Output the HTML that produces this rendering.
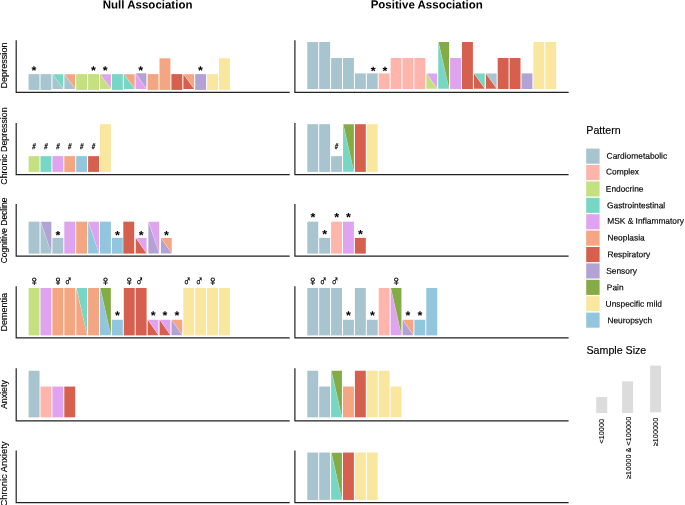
<!DOCTYPE html>
<html lang="en"><head><meta charset="utf-8"><title>Multimorbidity pattern associations</title>
<style>
html,body{margin:0;padding:0;background:#fff;}
body{width:685px;height:505px;overflow:hidden;font-family:"Liberation Sans","DejaVu Sans",sans-serif;}
svg{display:block;}
text{font-family:"Liberation Sans","DejaVu Sans",sans-serif;fill:#111;}
.st{font-size:12.5px;font-weight:bold;text-anchor:middle;fill:#000;}
.ha{font-size:8px;font-weight:bold;font-style:italic;text-anchor:middle;fill:#000;stroke:#000;stroke-width:0.2px;}
.gf{font-size:14px;text-anchor:middle;fill:#000;stroke:#000;stroke-width:0.3px;}
.gm{font-size:14px;text-anchor:middle;fill:#000;stroke:#000;stroke-width:0.3px;}
.rl{font-size:9.1px;text-anchor:middle;fill:#000;stroke:#000;stroke-width:0.15px;}
.ct{font-size:11.5px;font-weight:bold;text-anchor:middle;fill:#000;}
.lt{font-size:10.65px;fill:#000;stroke:#000;stroke-width:0.15px;}
.ll{font-size:8.4px;fill:#000;stroke:#000;stroke-width:0.15px;}
.sl{font-size:7.35px;text-anchor:end;fill:#000;stroke:#000;stroke-width:0.12px;}
</style></head>
<body>
<svg width="685" height="505" viewBox="0 0 685 505">
<rect x="0" y="0" width="685" height="505" fill="#ffffff"/>
<rect x="28.6" y="74.1" width="10.9" height="15.8" fill="#A7C4CF"/>
<text class="st" transform="translate(33.85,74.8) rotate(0.05)">*</text>
<rect x="40.5" y="74.1" width="10.9" height="15.8" fill="#A7C4CF"/>
<polygon points="52.45,74.2 52.45,89 63.25,89" fill="#A7C4CF"/>
<polygon points="52.75,74.2 63.25,74.2 63.25,88.5" fill="#76D7C4"/>
<polygon points="64.35,74.2 64.35,89 75.15,89" fill="#A7C4CF"/>
<polygon points="64.65,74.2 75.15,74.2 75.15,88.5" fill="#F4A582"/>
<rect x="76.2" y="74.1" width="10.9" height="15.8" fill="#C5E17F"/>
<rect x="88.1" y="74.1" width="10.9" height="15.8" fill="#C5E17F"/>
<text class="st" transform="translate(93.35,74.8) rotate(0.05)">*</text>
<polygon points="100.05,74.2 100.05,89 110.85,89" fill="#C5E17F"/>
<polygon points="100.35,74.2 110.85,74.2 110.85,88.5" fill="#E0A3F0"/>
<text class="st" transform="translate(105.25,74.8) rotate(0.05)">*</text>
<rect x="111.9" y="74.1" width="10.9" height="15.8" fill="#76D7C4"/>
<polygon points="123.85,74.2 123.85,89 134.65,89" fill="#76D7C4"/>
<polygon points="124.15,74.2 134.65,74.2 134.65,88.5" fill="#F4A582"/>
<polygon points="135.55,73.3 135.55,89 146.35,89" fill="#E0A3F0"/>
<polygon points="135.85,73.3 146.35,73.3 146.35,88.5" fill="#B3A3D5"/>
<text class="st" transform="translate(140.75,74.8) rotate(0.05)">*</text>
<rect x="147.6" y="74.1" width="10.9" height="15.8" fill="#F4A582"/>
<rect x="159.5" y="58.3" width="10.9" height="31.6" fill="#F4A582"/>
<rect x="171.4" y="74.1" width="10.9" height="15.8" fill="#D6604D"/>
<polygon points="183.35,74.2 183.35,89 194.15,89" fill="#D6604D"/>
<polygon points="183.65,74.2 194.15,74.2 194.15,88.5" fill="#F4A582"/>
<rect x="195.2" y="74.1" width="10.9" height="15.8" fill="#B3A3D5"/>
<text class="st" transform="translate(200.45,74.8) rotate(0.05)">*</text>
<rect x="207.1" y="74.1" width="10.9" height="15.8" fill="#F9E79F"/>
<rect x="219" y="58.3" width="10.9" height="31.6" fill="#F9E79F"/>
<path d="M16.2,40.3 V92.4 H289.7" fill="none" stroke="#222222" stroke-width="1.2" stroke-linecap="butt" stroke-linejoin="miter"/>
<rect x="307.3" y="42" width="10.9" height="47" fill="#A7C4CF"/>
<rect x="319.2" y="42" width="10.9" height="47" fill="#A7C4CF"/>
<rect x="331.1" y="58" width="10.9" height="31" fill="#A7C4CF"/>
<rect x="343" y="58" width="10.9" height="31" fill="#A7C4CF"/>
<rect x="354.9" y="73.4" width="10.9" height="15.6" fill="#A7C4CF"/>
<rect x="366.8" y="73.4" width="10.9" height="15.6" fill="#A7C4CF"/>
<text class="st" transform="translate(373.15,75.2) rotate(0.05)">*</text>
<rect x="378.7" y="73.4" width="10.9" height="15.6" fill="#FFB5AC"/>
<text class="st" transform="translate(385.05,75.2) rotate(0.05)">*</text>
<rect x="390.6" y="58" width="10.9" height="31" fill="#FFB5AC"/>
<rect x="402.5" y="58" width="10.9" height="31" fill="#FFB5AC"/>
<rect x="414.4" y="58" width="10.9" height="31" fill="#FFB5AC"/>
<polygon points="426.35,73.5 426.35,88.8 437.15,88.8" fill="#C5E17F"/>
<polygon points="426.65,73.5 437.15,73.5 437.15,88.3" fill="#E0A3F0"/>
<polygon points="438.25,42.1 438.25,88.8 449.05,88.8" fill="#76D7C4"/>
<polygon points="438.55,42.1 449.05,42.1 449.05,88.3" fill="#85AB47"/>
<rect x="450.1" y="58" width="10.9" height="31" fill="#E0A3F0"/>
<rect x="462" y="42" width="10.9" height="47" fill="#D6604D"/>
<polygon points="473.95,73.5 473.95,88.8 484.75,88.8" fill="#D6604D"/>
<polygon points="474.25,73.5 484.75,73.5 484.75,88.3" fill="#76D7C4"/>
<polygon points="485.85,73.5 485.85,88.8 496.65,88.8" fill="#D6604D"/>
<polygon points="486.15,73.5 496.65,73.5 496.65,88.3" fill="#A7C4CF"/>
<rect x="497.7" y="58" width="10.9" height="31" fill="#D6604D"/>
<rect x="509.6" y="58" width="10.9" height="31" fill="#D6604D"/>
<rect x="521.5" y="73.4" width="10.9" height="15.6" fill="#B3A3D5"/>
<rect x="533.4" y="42" width="10.9" height="47" fill="#F9E79F"/>
<rect x="545.3" y="42" width="10.9" height="47" fill="#F9E79F"/>
<path d="M294.9,40.3 V92.4 H568.6" fill="none" stroke="#222222" stroke-width="1.2" stroke-linecap="butt" stroke-linejoin="miter"/>
<rect x="28.6" y="156.15" width="10.9" height="15.75" fill="#C5E17F"/>
<text class="ha" transform="translate(33.75,149.25) rotate(0.05) skewX(-6) scale(0.74,1.1)">#</text>
<rect x="40.5" y="156.15" width="10.9" height="15.75" fill="#76D7C4"/>
<text class="ha" transform="translate(45.65,149.25) rotate(0.05) skewX(-6) scale(0.74,1.1)">#</text>
<rect x="52.4" y="156.15" width="10.9" height="15.75" fill="#E0A3F0"/>
<text class="ha" transform="translate(57.55,149.25) rotate(0.05) skewX(-6) scale(0.74,1.1)">#</text>
<rect x="64.3" y="156.15" width="10.9" height="15.75" fill="#F4A582"/>
<text class="ha" transform="translate(69.45,149.25) rotate(0.05) skewX(-6) scale(0.74,1.1)">#</text>
<rect x="76.2" y="156.15" width="10.9" height="15.75" fill="#92C5DE"/>
<text class="ha" transform="translate(81.35,149.25) rotate(0.05) skewX(-6) scale(0.74,1.1)">#</text>
<rect x="88.1" y="156.15" width="10.9" height="15.75" fill="#D6604D"/>
<text class="ha" transform="translate(93.25,149.25) rotate(0.05) skewX(-6) scale(0.74,1.1)">#</text>
<rect x="100" y="124.2" width="10.9" height="47.7" fill="#F9E79F"/>
<path d="M16.2,122.9 V174.6 H289.7" fill="none" stroke="#222222" stroke-width="1.2" stroke-linecap="butt" stroke-linejoin="miter"/>
<rect x="307.3" y="124.2" width="10.9" height="47.7" fill="#A7C4CF"/>
<rect x="319.2" y="124.2" width="10.9" height="47.7" fill="#A7C4CF"/>
<rect x="331.1" y="156.15" width="10.9" height="15.75" fill="#A7C4CF"/>
<text class="ha" transform="translate(336.25,149.25) rotate(0.05) skewX(-6) scale(0.74,1.1)">#</text>
<polygon points="343.05,124.3 343.05,171.7 353.85,171.7" fill="#76D7C4"/>
<polygon points="343.35,124.3 353.85,124.3 353.85,171.2" fill="#85AB47"/>
<rect x="354.9" y="124.2" width="10.9" height="47.7" fill="#D6604D"/>
<rect x="366.8" y="124.2" width="10.9" height="47.7" fill="#F9E79F"/>
<path d="M294.9,122.9 V174.6 H568.6" fill="none" stroke="#222222" stroke-width="1.2" stroke-linecap="butt" stroke-linejoin="miter"/>
<rect x="28.6" y="221.65" width="10.9" height="32" fill="#A7C4CF"/>
<polygon points="40.55,221.75 40.55,253.45 51.35,253.45" fill="#A7C4CF"/>
<polygon points="40.85,221.75 51.35,221.75 51.35,252.95" fill="#B3A3D5"/>
<rect x="52.4" y="237.85" width="10.9" height="15.8" fill="#A7C4CF"/>
<text class="st" transform="translate(57.95,239.4) rotate(0.05)">*</text>
<rect x="64.3" y="221.65" width="10.9" height="32" fill="#E0A3F0"/>
<rect x="76.2" y="221.65" width="10.9" height="32" fill="#F4A582"/>
<polygon points="88.15,221.75 88.15,253.45 98.95,253.45" fill="#92C5DE"/>
<polygon points="88.45,221.75 98.95,221.75 98.95,252.95" fill="#E0A3F0"/>
<rect x="100" y="221.65" width="10.9" height="32" fill="#92C5DE"/>
<rect x="111.9" y="237.85" width="10.9" height="15.8" fill="#92C5DE"/>
<text class="st" transform="translate(117.45,239.4) rotate(0.05)">*</text>
<rect x="123.3" y="221.65" width="10.9" height="32" fill="#D6604D"/>
<polygon points="135.75,237.95 135.75,253.45 146.55,253.45" fill="#D6604D"/>
<polygon points="136.05,237.95 146.55,237.95 146.55,252.95" fill="#E0A3F0"/>
<text class="st" transform="translate(141.25,239.4) rotate(0.05)">*</text>
<polygon points="148.35,221.75 148.35,253.45 159.15,253.45" fill="#B3A3D5"/>
<polygon points="148.65,221.75 159.15,221.75 159.15,252.95" fill="#E0A3F0"/>
<polygon points="160.95,237.95 160.95,253.45 171.75,253.45" fill="#B3A3D5"/>
<polygon points="161.25,237.95 171.75,237.95 171.75,252.95" fill="#F4A582"/>
<text class="st" transform="translate(166.45,239.4) rotate(0.05)">*</text>
<path d="M16.2,204 V256.1 H289.7" fill="none" stroke="#222222" stroke-width="1.2" stroke-linecap="butt" stroke-linejoin="miter"/>
<rect x="307.3" y="221.65" width="10.9" height="32" fill="#A7C4CF"/>
<text class="st" transform="translate(312.85,221.6) rotate(0.05)">*</text>
<rect x="319.2" y="237.85" width="10.9" height="15.8" fill="#A7C4CF"/>
<text class="st" transform="translate(324.75,238.6) rotate(0.05)">*</text>
<rect x="331.1" y="221.65" width="10.9" height="32" fill="#FFB5AC"/>
<text class="st" transform="translate(336.65,221.6) rotate(0.05)">*</text>
<rect x="343" y="221.65" width="10.9" height="32" fill="#E0A3F0"/>
<text class="st" transform="translate(348.55,221.6) rotate(0.05)">*</text>
<rect x="354.9" y="237.85" width="10.9" height="15.8" fill="#D6604D"/>
<text class="st" transform="translate(360.45,238.6) rotate(0.05)">*</text>
<path d="M294.9,204 V256.1 H568.6" fill="none" stroke="#222222" stroke-width="1.2" stroke-linecap="butt" stroke-linejoin="miter"/>
<rect x="28.6" y="288" width="10.9" height="47.4" fill="#C5E17F"/>
<text class="gf" transform="translate(34.15,285.4) rotate(0.05)">♀</text>
<rect x="40.5" y="288" width="10.9" height="47.4" fill="#E0A3F0"/>
<rect x="52.4" y="288" width="10.9" height="47.4" fill="#F4A582"/>
<text class="gf" transform="translate(57.95,285.4) rotate(0.05)">♀</text>
<rect x="64.3" y="288" width="10.9" height="47.4" fill="#F4A582"/>
<text class="gm" transform="translate(68.25,286) rotate(0.05) scale(0.8,1.06)">♂</text>
<polygon points="76.25,288.1 76.25,335.2 87.05,335.2" fill="#F4A582"/>
<polygon points="76.55,288.1 87.05,288.1 87.05,334.7" fill="#76D7C4"/>
<rect x="88.1" y="288" width="10.9" height="47.4" fill="#F4A582"/>
<polygon points="100.05,288.1 100.05,335.2 110.85,335.2" fill="#92C5DE"/>
<polygon points="100.35,288.1 110.85,288.1 110.85,334.7" fill="#85AB47"/>
<text class="gf" transform="translate(105.55,285.4) rotate(0.05)">♀</text>
<rect x="111.9" y="319.75" width="10.9" height="15.65" fill="#92C5DE"/>
<text class="st" transform="translate(117.45,319.8) rotate(0.05)">*</text>
<rect x="123.8" y="288" width="10.9" height="47.4" fill="#D6604D"/>
<text class="gf" transform="translate(129.35,285.4) rotate(0.05)">♀</text>
<rect x="135.7" y="288" width="10.9" height="47.4" fill="#D6604D"/>
<text class="gm" transform="translate(139.65,286) rotate(0.05) scale(0.8,1.06)">♂</text>
<polygon points="147.65,319.85 147.65,335.2 158.45,335.2" fill="#D6604D"/>
<polygon points="147.95,319.85 158.45,319.85 158.45,334.7" fill="#E0A3F0"/>
<text class="st" transform="translate(153.15,319.8) rotate(0.05)">*</text>
<polygon points="159.55,319.85 159.55,335.2 170.35,335.2" fill="#D6604D"/>
<polygon points="159.85,319.85 170.35,319.85 170.35,334.7" fill="#E0A3F0"/>
<text class="st" transform="translate(165.05,319.8) rotate(0.05)">*</text>
<polygon points="171.45,319.85 171.45,335.2 182.25,335.2" fill="#B3A3D5"/>
<polygon points="171.75,319.85 182.25,319.85 182.25,334.7" fill="#F4A582"/>
<text class="st" transform="translate(176.95,319.8) rotate(0.05)">*</text>
<rect x="183.3" y="288" width="10.9" height="47.4" fill="#F9E79F"/>
<text class="gm" transform="translate(187.25,286) rotate(0.05) scale(0.8,1.06)">♂</text>
<rect x="195.2" y="288" width="10.9" height="47.4" fill="#F9E79F"/>
<text class="gm" transform="translate(199.15,286) rotate(0.05) scale(0.8,1.06)">♂</text>
<rect x="207.1" y="288" width="10.9" height="47.4" fill="#F9E79F"/>
<text class="gf" transform="translate(212.65,285.4) rotate(0.05)">♀</text>
<rect x="219" y="288" width="10.9" height="47.4" fill="#F9E79F"/>
<path d="M16.2,286.3 V337.8 H289.7" fill="none" stroke="#222222" stroke-width="1.2" stroke-linecap="butt" stroke-linejoin="miter"/>
<rect x="307.3" y="288" width="10.9" height="47.4" fill="#A7C4CF"/>
<text class="gf" transform="translate(312.85,285.4) rotate(0.05)">♀</text>
<rect x="319.2" y="288" width="10.9" height="47.4" fill="#A7C4CF"/>
<text class="gm" transform="translate(323.15,286) rotate(0.05) scale(0.8,1.06)">♂</text>
<rect x="331.1" y="288" width="10.9" height="47.4" fill="#A7C4CF"/>
<text class="gm" transform="translate(335.05,286) rotate(0.05) scale(0.8,1.06)">♂</text>
<rect x="343" y="319.75" width="10.9" height="15.65" fill="#A7C4CF"/>
<text class="st" transform="translate(348.55,319.8) rotate(0.05)">*</text>
<rect x="354.9" y="288" width="10.9" height="47.4" fill="#A7C4CF"/>
<rect x="366.8" y="319.75" width="10.9" height="15.65" fill="#A7C4CF"/>
<text class="st" transform="translate(372.35,319.8) rotate(0.05)">*</text>
<rect x="378.7" y="288" width="10.9" height="47.4" fill="#FFB5AC"/>
<polygon points="390.65,288.1 390.65,335.2 401.45,335.2" fill="#E0A3F0"/>
<polygon points="390.95,288.1 401.45,288.1 401.45,334.7" fill="#85AB47"/>
<text class="gf" transform="translate(396.15,285.4) rotate(0.05)">♀</text>
<polygon points="402.55,319.85 402.55,335.2 413.35,335.2" fill="#B3A3D5"/>
<polygon points="402.85,319.85 413.35,319.85 413.35,334.7" fill="#F4A582"/>
<text class="st" transform="translate(408.05,319.8) rotate(0.05)">*</text>
<rect x="414.4" y="319.75" width="10.9" height="15.65" fill="#92C5DE"/>
<text class="st" transform="translate(419.95,319.8) rotate(0.05)">*</text>
<rect x="426.3" y="288" width="10.9" height="47.4" fill="#92C5DE"/>
<path d="M294.9,286.3 V337.8 H568.6" fill="none" stroke="#222222" stroke-width="1.2" stroke-linecap="butt" stroke-linejoin="miter"/>
<rect x="28.6" y="370.75" width="10.9" height="46.6" fill="#A7C4CF"/>
<rect x="40.5" y="386.55" width="10.9" height="30.8" fill="#FFB5AC"/>
<rect x="52.4" y="386.55" width="10.9" height="30.8" fill="#E0A3F0"/>
<rect x="64.3" y="386.55" width="10.9" height="30.8" fill="#D6604D"/>
<path d="M16.2,368.3 V420.8 H289.7" fill="none" stroke="#222222" stroke-width="1.2" stroke-linecap="butt" stroke-linejoin="miter"/>
<rect x="307.3" y="370.75" width="10.9" height="46.6" fill="#A7C4CF"/>
<rect x="319.2" y="386.55" width="10.9" height="30.8" fill="#A7C4CF"/>
<polygon points="331.15,370.85 331.15,417.15 341.95,417.15" fill="#76D7C4"/>
<polygon points="331.45,370.85 341.95,370.85 341.95,416.65" fill="#85AB47"/>
<rect x="343" y="386.55" width="10.9" height="30.8" fill="#F4A582"/>
<rect x="354.9" y="370.75" width="10.9" height="46.6" fill="#D6604D"/>
<rect x="366.8" y="370.75" width="10.9" height="46.6" fill="#F9E79F"/>
<rect x="378.7" y="370.75" width="10.9" height="46.6" fill="#F9E79F"/>
<rect x="390.6" y="386.55" width="10.9" height="30.8" fill="#F9E79F"/>
<path d="M294.9,368.3 V420.8 H568.6" fill="none" stroke="#222222" stroke-width="1.2" stroke-linecap="butt" stroke-linejoin="miter"/>
<path d="M16.2,450.5 V502.6 H289.7" fill="none" stroke="#222222" stroke-width="1.2" stroke-linecap="butt" stroke-linejoin="miter"/>
<rect x="307.3" y="452.55" width="10.9" height="47.4" fill="#A7C4CF"/>
<rect x="319.2" y="452.55" width="10.9" height="47.4" fill="#A7C4CF"/>
<polygon points="331.15,452.65 331.15,499.75 341.95,499.75" fill="#76D7C4"/>
<polygon points="331.45,452.65 341.95,452.65 341.95,499.25" fill="#85AB47"/>
<rect x="343" y="452.55" width="10.9" height="47.4" fill="#D6604D"/>
<rect x="354.9" y="452.55" width="10.9" height="47.4" fill="#F9E79F"/>
<rect x="366.8" y="452.55" width="10.9" height="47.4" fill="#F9E79F"/>
<path d="M294.9,450.5 V502.6 H568.6" fill="none" stroke="#222222" stroke-width="1.2" stroke-linecap="butt" stroke-linejoin="miter"/>
<text class="rl" transform="translate(7.0,65.5) rotate(-90) scale(1.0,1)">Depression</text>
<text class="rl" transform="translate(7.0,146.05) rotate(-90) scale(0.967,1)">Chronic Depression</text>
<text class="rl" transform="translate(7.0,230.4) rotate(-90) scale(0.93,1)">Cognitive Decline</text>
<text class="rl" transform="translate(7.0,312.2) rotate(-90) scale(0.992,1)">Dementia</text>
<text class="rl" transform="translate(7.0,394.6) rotate(-90) scale(0.968,1)">Anxiety</text>
<text class="rl" transform="translate(7.0,474.05) rotate(-90) scale(1.027,1)">Chronic Anxiety</text>
<text class="ct" transform="translate(147.6,8.4) rotate(0.03)">Null Association</text>
<text class="ct" transform="translate(426.7,8.4) rotate(0.03)">Positive Association</text>
<text class="lt" x="586.3" y="133.6">Pattern</text>
<rect x="586.2" y="148.6" width="13.4" height="15.1" fill="#A7C4CF"/>
<text class="ll" transform="translate(606.6,158.8) rotate(0.03)">Cardiometabolic</text>
<rect x="586.2" y="165" width="13.4" height="15.1" fill="#FFB5AC"/>
<text class="ll" transform="translate(606.0,174.6) rotate(0.03)">Complex</text>
<rect x="586.2" y="181.4" width="13.4" height="15.1" fill="#C5E17F"/>
<text class="ll" transform="translate(605.8,191.8) rotate(0.03)">Endocrine</text>
<rect x="586.2" y="197.8" width="13.4" height="15.1" fill="#76D7C4"/>
<text class="ll" transform="translate(607.0,208.2) rotate(0.03)">Gastrointestinal</text>
<rect x="586.2" y="214.2" width="13.4" height="15.1" fill="#E0A3F0"/>
<text class="ll" transform="translate(607.2,223.8) rotate(0.03)">MSK &amp; Inflammatory</text>
<rect x="586.2" y="230.6" width="13.4" height="15.1" fill="#F4A582"/>
<text class="ll" transform="translate(607.4,240.4) rotate(0.03)">Neoplasia</text>
<rect x="586.2" y="247" width="13.4" height="15.1" fill="#D6604D"/>
<text class="ll" transform="translate(607.4,257.2) rotate(0.03)">Respiratory</text>
<rect x="586.2" y="263.4" width="13.4" height="15.1" fill="#B3A3D5"/>
<text class="ll" transform="translate(606.2,273.8) rotate(0.03)">Sensory</text>
<rect x="586.2" y="279.8" width="13.4" height="15.1" fill="#85AB47"/>
<text class="ll" transform="translate(606.8,290.2) rotate(0.03)">Pain</text>
<rect x="586.2" y="296.2" width="13.4" height="15.1" fill="#F9E79F"/>
<text class="ll" transform="translate(605.6,306.8) rotate(0.03)">Unspecific mild</text>
<rect x="586.2" y="312.6" width="13.4" height="15.1" fill="#92C5DE"/>
<text class="ll" transform="translate(607.4,323.2) rotate(0.03)">Neuropsych</text>
<text class="lt" x="586.5" y="353.6">Sample Size</text>
<rect x="596.2" y="397" width="11" height="16" fill="#DCDCDC"/>
<rect x="622.1" y="381.4" width="11" height="31.6" fill="#DCDCDC"/>
<rect x="650.1" y="365.6" width="11" height="46.7" fill="#DCDCDC"/>
<text class="sl" transform="translate(603.8,418.9) rotate(-90)">&lt;10000</text>
<text class="sl" transform="translate(630.7,416.7) rotate(-90)">≥10000 &amp; &lt;100000</text>
<text class="sl" transform="translate(658.3,417.7) rotate(-90)">≥100000</text>
</svg>
</body></html>
